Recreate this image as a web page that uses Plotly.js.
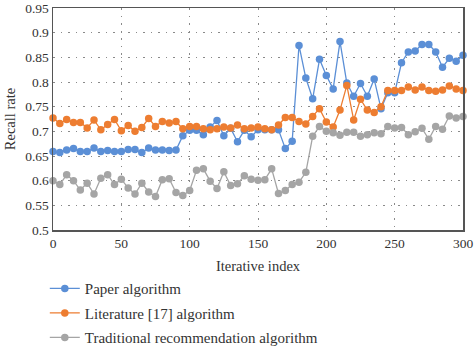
<!DOCTYPE html>
<html>
<head>
<meta charset="utf-8">
<script src="https://cdn.plot.ly/plotly-3.0.1.min.js"></script>
<style>html,body{margin:0;padding:0;background:#fff;}#chart{width:474px;height:348px;}</style>
</head>
<body>
<div id="chart"></div>
<script>
const iterations = [0,5,10,15,20,25,30,35,40,45,50,55,60,65,70,75,80,85,90,95,100,105,110,115,120,125,130,135,140,145,150,155,160,165,170,175,180,185,190,195,200,205,210,215,220,225,230,235,240,245,250,255,260,265,270,275,280,285,290,295,300];

const paperAlgorithm = [0.659,0.657,0.662,0.665,0.659,0.659,0.666,0.659,0.661,0.659,0.659,0.663,0.663,0.657,0.666,0.662,0.662,0.661,0.662,0.691,0.702,0.702,0.693,0.709,0.722,0.691,0.706,0.679,0.702,0.689,0.703,0.703,0.703,0.703,0.665,0.680,0.874,0.808,0.766,0.846,0.813,0.786,0.882,0.798,0.771,0.797,0.771,0.806,0.746,0.778,0.778,0.839,0.861,0.863,0.876,0.876,0.861,0.830,0.848,0.842,0.854];

const literatureAlgorithm = [0.727,0.716,0.724,0.718,0.718,0.707,0.723,0.703,0.714,0.724,0.701,0.712,0.700,0.708,0.726,0.710,0.720,0.717,0.720,0.705,0.710,0.710,0.705,0.703,0.705,0.709,0.707,0.713,0.705,0.707,0.709,0.705,0.703,0.713,0.728,0.728,0.720,0.715,0.730,0.746,0.719,0.709,0.743,0.793,0.723,0.765,0.743,0.738,0.750,0.783,0.783,0.783,0.790,0.784,0.790,0.783,0.781,0.784,0.792,0.786,0.783];

const traditionalAlgorithm = [0.600,0.592,0.612,0.600,0.581,0.595,0.573,0.605,0.612,0.592,0.603,0.585,0.573,0.595,0.577,0.568,0.602,0.604,0.576,0.570,0.580,0.621,0.624,0.599,0.584,0.618,0.590,0.594,0.610,0.603,0.601,0.602,0.624,0.574,0.580,0.592,0.597,0.617,0.690,0.710,0.700,0.697,0.692,0.698,0.698,0.690,0.693,0.697,0.695,0.710,0.707,0.708,0.693,0.699,0.706,0.684,0.710,0.704,0.731,0.727,0.730];

const seriesNames = ["Paper algorithm","Literature [17] algorithm","Traditional recommendation algorithm"];
const seriesColors = ["#5b8fd6","#ed7d31","#a5a5a5"];
const seriesValues = [paperAlgorithm, literatureAlgorithm, traditionalAlgorithm];

const xTickVals = [0,50,100,150,200,250,300];
const yTickVals = [0.5,0.55,0.6,0.65,0.7,0.75,0.8,0.85,0.9,0.95];

const traces = seriesValues.map((vals, i) => ({
  x: iterations,
  y: vals,
  name: seriesNames[i],
  legendgroup: 'g' + i,
  type: 'scatter',
  mode: 'lines+markers',
  cliponaxis: false,
  line: {color: seriesColors[i], width: 1.3},
  marker: {color: seriesColors[i], size: 7.5}
}));

const fontFam = '"Liberation Serif", "Times New Roman", serif';
const layout = {
  width: 474, height: 348,
  margin: {l: 53, r: 11, t: 7.5, b: 118, autoexpand: false},
  paper_bgcolor: '#fff', plot_bgcolor: '#fff',
  font: {family: fontFam, size: 13.5, color: '#333'},
  showlegend: true,
  legend: {
    x: -0.02, y: -0.19, xanchor: 'left', yanchor: 'top',
    orientation: 'v', tracegroupgap: 2,
    font: {family: fontFam, size: 15, color: '#333'},
    bgcolor: 'rgba(0,0,0,0)'
  },
  xaxis: {
    range: [0, 300], tickvals: xTickVals, ticktext: xTickVals.map(String),
    showgrid: true, gridcolor: '#8a8a8a', gridwidth: 1, griddash: '1.5px,6px',
    showline: true, linecolor: '#555', linewidth: 1.5, mirror: true,
    zeroline: false, ticks: '',
    tickfont: {family: fontFam, size: 13.5, color: '#333'},
    title: {text: 'Iterative index', font: {family: fontFam, size: 14.5, color: '#333'}, standoff: 11}
  },
  yaxis: {
    range: [0.5, 0.95], tickvals: yTickVals, ticktext: yTickVals.map(String),
    showgrid: true, gridcolor: '#8a8a8a', gridwidth: 1, griddash: '1.5px,6px',
    showline: true, linecolor: '#555', linewidth: 1.5, mirror: true,
    zeroline: false, ticks: '',
    tickfont: {family: fontFam, size: 13.5, color: '#333'},
    title: {text: 'Recall rate', font: {family: fontFam, size: 14.5, color: '#333'}, standoff: 6}
  }
};

Plotly.newPlot('chart', traces, layout, {displayModeBar: false, staticPlot: true});
</script>
</body>
</html>
